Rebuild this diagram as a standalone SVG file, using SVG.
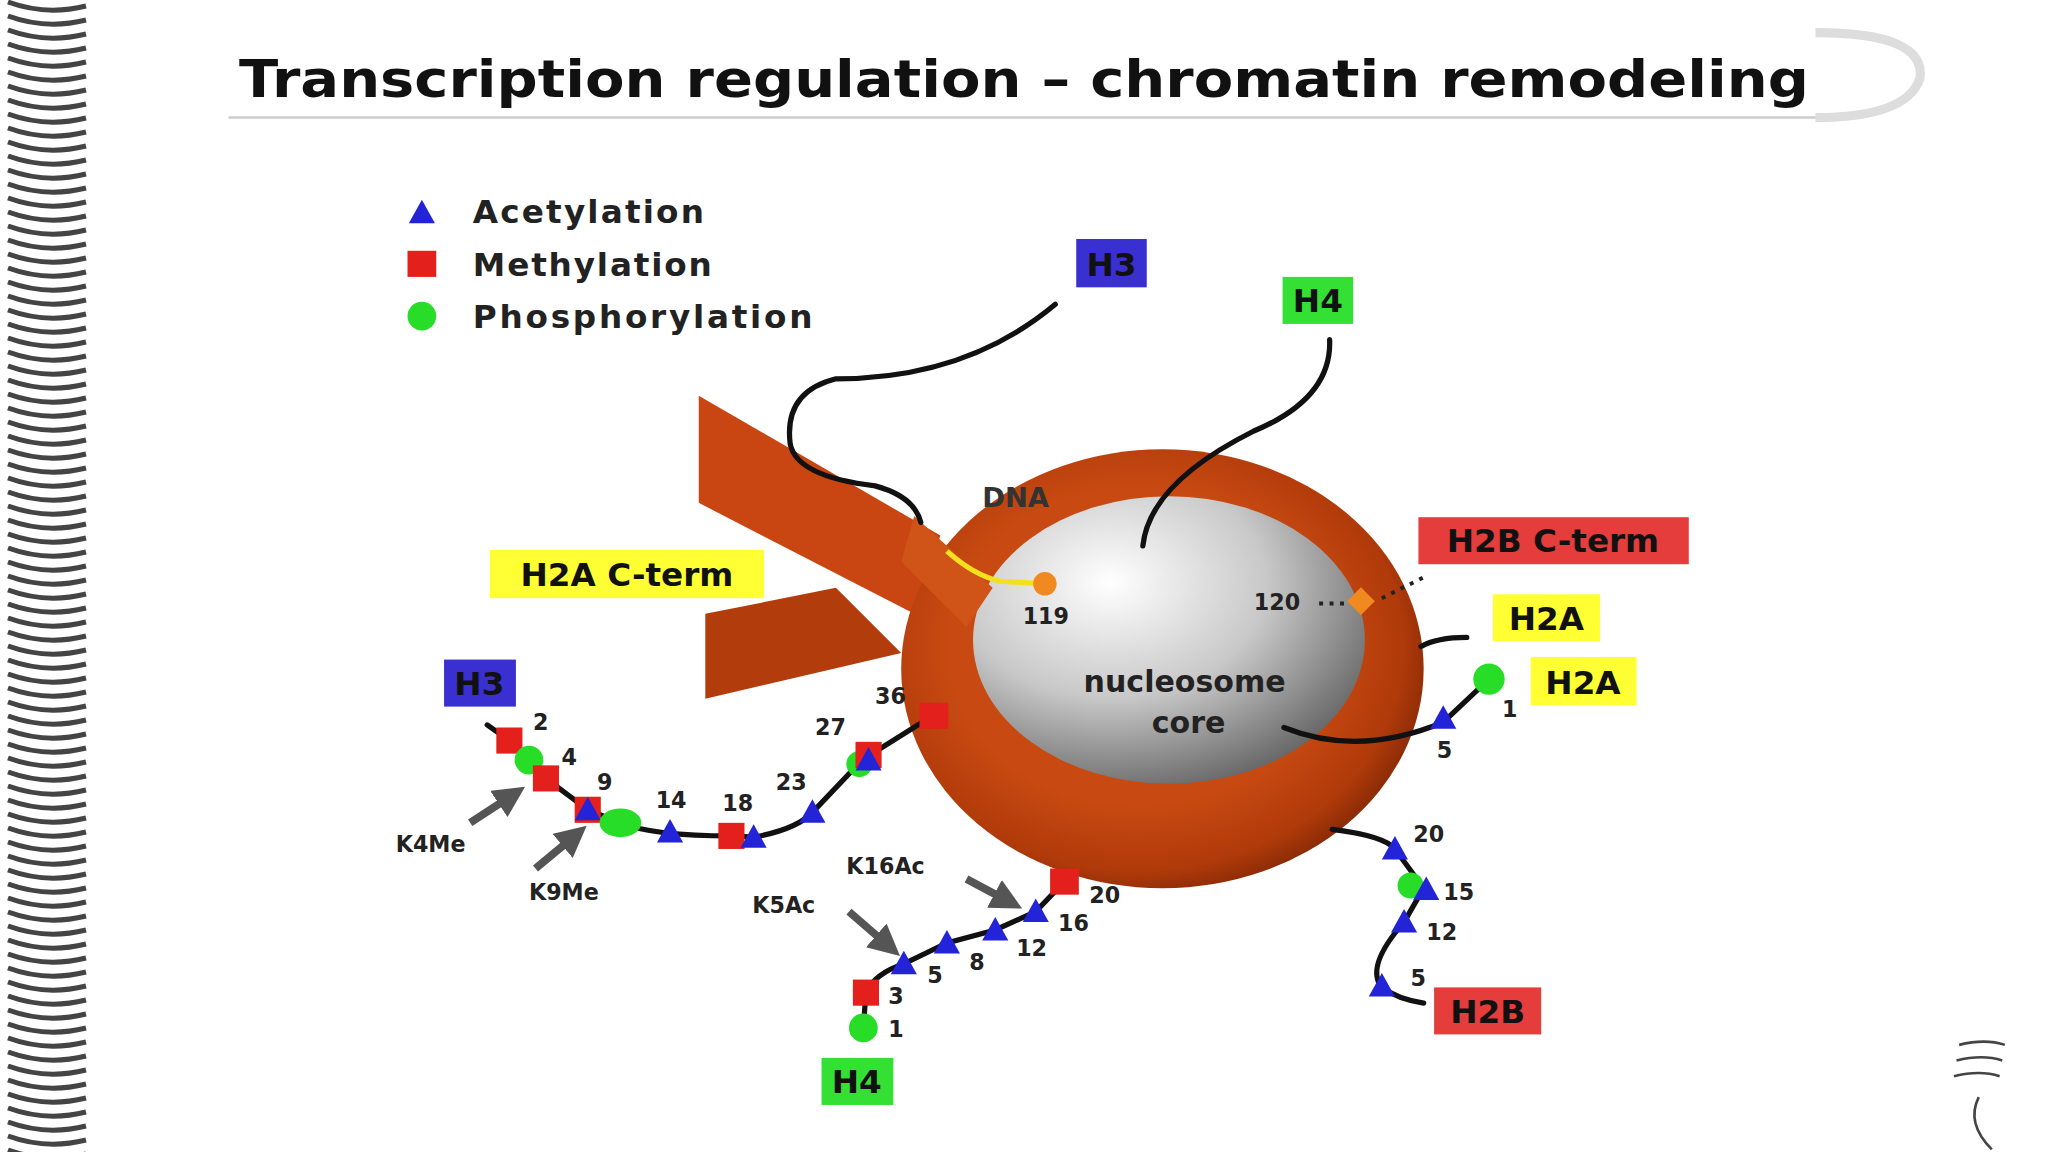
<svg xmlns="http://www.w3.org/2000/svg" width="2048" height="1152" viewBox="0 0 2048 1152">
<style>
.t{font-family:"DejaVu Sans","Liberation Sans",sans-serif;font-weight:bold}
.n{font-family:"DejaVu Sans","Liberation Sans",sans-serif;font-weight:bold;font-size:17px;fill:#222}
.tail{fill:none;stroke:#111;stroke-width:4;stroke-linecap:round}
.ac{fill:#2323d8}.me{fill:#e3201c}.ph{fill:#27dd27}
.arr{stroke:#555;stroke-width:6;fill:none}
</style>
<defs>
<pattern id="sp" width="92" height="14" patternUnits="userSpaceOnUse">
<path d="M8,2 Q46,16 86,6" stroke="#444" stroke-width="5" fill="none"/>
</pattern>
<radialGradient id="core" cx="0.35" cy="0.3" r="0.8">
<stop offset="0" stop-color="#ffffff"/><stop offset="0.5" stop-color="#c8c8c8"/><stop offset="1" stop-color="#5a5a5a"/>
</radialGradient>
<radialGradient id="ring" cx="0.45" cy="0.45" r="0.6">
<stop offset="0.6" stop-color="#c84a12"/><stop offset="0.85" stop-color="#b03a0a"/><stop offset="1" stop-color="#7a2405"/>
</radialGradient>
<marker id="ah" markerWidth="4" markerHeight="4" refX="2" refY="2" orient="auto"><path d="M0,0L4,2L0,4z" fill="#555"/></marker>
<polygon id="tri" points="0,-10 10,8 -10,8"/>
</defs>
<rect width="2048" height="1152" fill="#fff"/>
<rect x="0" y="0" width="92" height="1152" fill="url(#sp)"/>
<g transform="scale(1.3061)">
<text class="t" x="183" y="74" font-size="40" fill="#111" textLength="1202" lengthAdjust="spacingAndGlyphs">Transcription regulation – chromatin remodeling</text>
<path d="M175,90 L1400,90" stroke="#ccc" stroke-width="2"/>
<path d="M1390,25 Q1475,25 1470,60 Q1460,90 1390,90" fill="none" stroke="#ddd" stroke-width="7"/>
<path d="M1500,800 q20,-5 35,0 M1498,812 q20,-5 35,0 M1496,824 q20,-5 35,0 M1515,840 q-10,20 10,40" fill="none" stroke="#444" stroke-width="2"/>

<g id="legend">
<use href="#tri" x="323" y="163" class="ac"/>
<rect x="312" y="192" width="22" height="20" class="me"/>
<circle cx="323" cy="242" r="11" class="ph"/>
<text class="t" x="362" y="171" font-size="25" fill="#222" textLength="177">Acetylation</text>
<text class="t" x="362" y="211" font-size="25" fill="#222" textLength="183">Methylation</text>
<text class="t" x="362" y="251" font-size="25" fill="#222" textLength="260">Phosphorylation</text>
</g>

<g id="dna">
<polygon points="535,303 720,410 700,470 535,385" fill="#c94612"/>
<polygon points="540,470 640,450 690,500 540,535" fill="#b23c0c"/>
<ellipse cx="890" cy="512" rx="200" ry="168" fill="url(#ring)"/>
<ellipse cx="895" cy="490" rx="150" ry="110" fill="url(#core)"/>
<polygon points="700,395 760,450 740,480 690,430" fill="#d05418"/>
<text class="t" x="752" y="388" font-size="21" fill="#333">DNA</text>
<text class="t" x="907" y="530" font-size="23" fill="#222" text-anchor="middle">nucleosome</text>
<text class="t" x="910" y="561" font-size="23" fill="#222" text-anchor="middle">core</text>
<path d="M725,422 Q745,440 765,445 L800,447" stroke="#f5e020" stroke-width="4" fill="none"/>
<circle cx="800" cy="447" r="9" fill="#f08a20"/>
<text class="n" x="783" y="478">119</text>
<rect x="1034" y="453" width="15" height="15" fill="#f08a20" transform="rotate(45 1042 461)"/>
<text class="n" x="960" y="467">120</text>
<path d="M1010,462 L1030,462 M1058,458 L1090,442" stroke="#222" stroke-width="3" stroke-dasharray="3,5"/>
</g>

<g id="connectors">
<path class="tail" d="M808,233 Q740,290 640,290 Q600,300 605,340 Q610,365 670,372 Q700,380 705,400"/>
<path class="tail" d="M1018,260 Q1020,305 960,330 Q880,370 875,418"/>
<path class="tail" d="M1123,488 Q1100,488 1088,495"/>
<path class="tail" d="M983,557 Q1040,580 1105,553 L1140,520"/>
<path class="tail" d="M373,555 L390,567 L418,596 L450,620 L475,630 Q500,640 560,640 L577,641 Q610,635 622,622 L660,582 L714,548"/>
<path class="tail" d="M661,787 L663,760 Q670,745 692,738 L725,722 L762,712 L793,698 L815,675"/>
<path class="tail" d="M1020,635 Q1060,640 1068,650 L1090,680 L1075,706 Q1045,740 1058,756 Q1070,765 1090,768"/>
<path class="arr" marker-end="url(#ah)" d="M360,630 L392,609"/>
<path class="arr" marker-end="url(#ah)" d="M410,665 L440,640"/>
<path class="arr" marker-end="url(#ah)" d="M740,673 L772,690"/>
<path class="arr" marker-end="url(#ah)" d="M650,698 L680,724"/>
</g>

<g id="h3tail">
<rect x="380" y="557" width="20" height="20" class="me"/><circle cx="405" cy="582" r="11" class="ph"/>
<rect x="408" y="586" width="20" height="20" class="me"/>
<rect x="440" y="610" width="20" height="20" class="me"/><use href="#tri" x="450" y="620" class="ac"/>
<ellipse cx="475" cy="630" rx="16" ry="11" class="ph"/>
<use href="#tri" x="513" y="637" class="ac"/>
<rect x="550" y="630" width="20" height="20" class="me"/><use href="#tri" x="577" y="641" class="ac"/>
<use href="#tri" x="622" y="622" class="ac"/>
<circle cx="658" cy="585" r="10" class="ph"/><rect x="655" y="568" width="20" height="20" class="me"/><use href="#tri" x="665" y="582" class="ac"/>
<rect x="704" y="538" width="22" height="20" class="me"/>
<text class="n" x="408" y="559">2</text><text class="n" x="430" y="586">4</text><text class="n" x="457" y="605">9</text>
<text class="n" x="502" y="619">14</text><text class="n" x="553" y="621">18</text><text class="n" x="594" y="605">23</text>
<text class="n" x="624" y="563">27</text><text class="n" x="670" y="539">36</text>
<text class="n" x="303" y="652">K4Me</text><text class="n" x="405" y="689">K9Me</text>
</g>
<g id="h4tail">
<circle cx="661" cy="787" r="11" class="ph"/><rect x="653" y="750" width="20" height="20" class="me"/>
<use href="#tri" x="692" y="738" class="ac"/><use href="#tri" x="725" y="722" class="ac"/>
<use href="#tri" x="762" y="712" class="ac"/><use href="#tri" x="793" y="698" class="ac"/>
<rect x="804" y="665" width="22" height="20" class="me"/>
<text class="n" x="680" y="794">1</text><text class="n" x="680" y="769">3</text><text class="n" x="710" y="753">5</text>
<text class="n" x="742" y="743">8</text><text class="n" x="778" y="732">12</text><text class="n" x="810" y="713">16</text>
<text class="n" x="834" y="691">20</text>
<text class="n" x="648" y="669">K16Ac</text><text class="n" x="576" y="699">K5Ac</text>
</g>
<g id="h2btail">
<use href="#tri" x="1068" y="650" class="ac"/><circle cx="1080" cy="678" r="10" class="ph"/>
<use href="#tri" x="1092" y="681" class="ac"/><use href="#tri" x="1075" y="706" class="ac"/>
<use href="#tri" x="1058" y="755" class="ac"/>
<text class="n" x="1082" y="645">20</text><text class="n" x="1105" y="689">15</text>
<text class="n" x="1092" y="720">12</text><text class="n" x="1080" y="755">5</text>
</g>
<g id="h2atail">
<circle cx="1140" cy="520" r="12" class="ph"/><use href="#tri" x="1105" y="550" class="ac"/>
<text class="n" x="1150" y="549">1</text><text class="n" x="1100" y="580">5</text>
</g>

<g id="labels" class="t" font-size="25">
<g id="lab-h3top"><rect x="824" y="183" width="54" height="37" fill="#3a2fd0"/><text x="851" y="211" text-anchor="middle" fill="#111">H3</text></g>
<g id="lab-h4top"><rect x="982" y="212" width="54" height="36" fill="#33e033"/><text x="1009" y="239" text-anchor="middle" fill="#111">H4</text></g>
<g id="lab-h2bc"><rect x="1086" y="396" width="207" height="36" fill="#e53c3c"/><text x="1189" y="423" text-anchor="middle" fill="#111">H2B C-term</text></g>
<g id="lab-h2a1"><rect x="1143" y="455" width="82" height="36" fill="#ffff33"/><text x="1184" y="482" text-anchor="middle" fill="#111">H2A</text></g>
<g id="lab-h2a2"><rect x="1172" y="503" width="81" height="37" fill="#ffff33"/><text x="1212" y="531" text-anchor="middle" fill="#111">H2A</text></g>
<g id="lab-h2ac"><rect x="375" y="421" width="210" height="37" fill="#ffff33"/><text x="480" y="449" text-anchor="middle" fill="#111">H2A C-term</text></g>
<g id="lab-h3"><rect x="340" y="505" width="55" height="36" fill="#3a2fd0"/><text x="367" y="532" text-anchor="middle" fill="#111">H3</text></g>
<g id="lab-h4"><rect x="629" y="810" width="55" height="36" fill="#33e033"/><text x="656" y="837" text-anchor="middle" fill="#111">H4</text></g>
<g id="lab-h2b"><rect x="1098" y="756" width="82" height="36" fill="#e53c3c"/><text x="1139" y="783" text-anchor="middle" fill="#111">H2B</text></g>
</g>
</g>
</svg>
